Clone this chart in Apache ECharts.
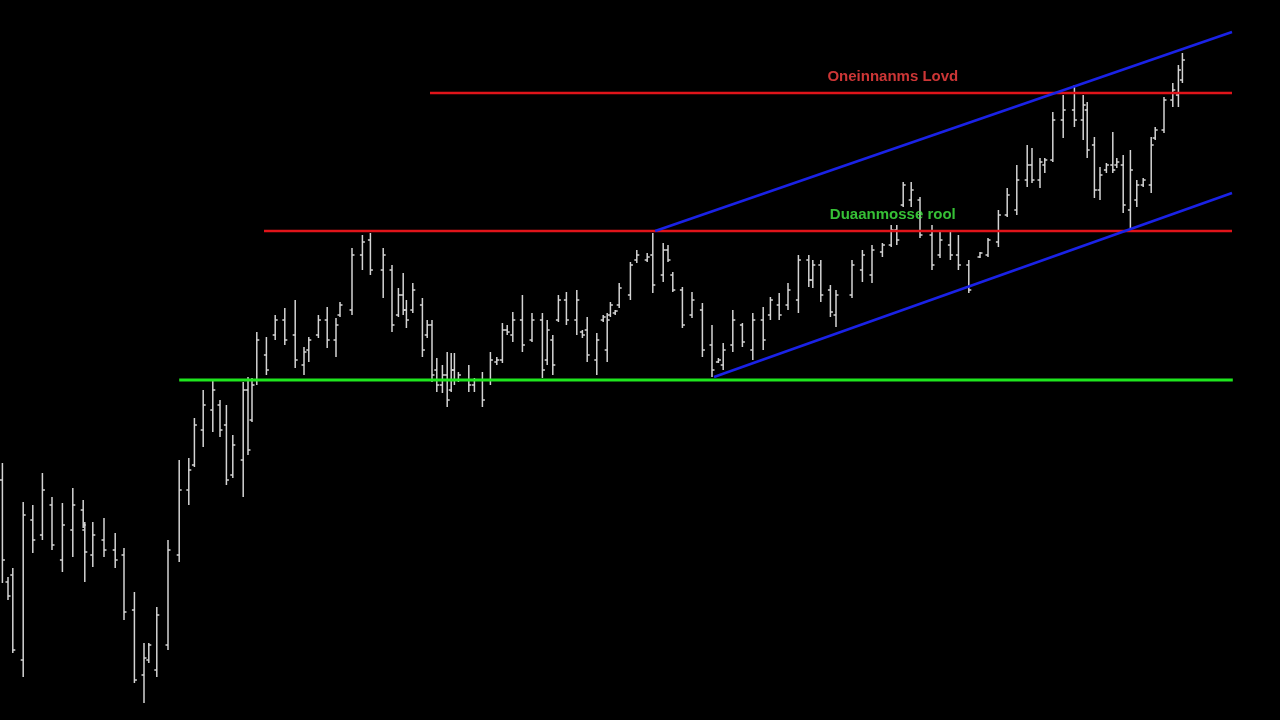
<!DOCTYPE html>
<html>
<head>
<meta charset="utf-8">
<script src="https://cdn.jsdelivr.net/npm/echarts@6/dist/echarts.min.js"></script>
<style>
html,body{margin:0;padding:0;background:#000;}
#chart{width:1280px;height:720px;}
</style>
</head>
<body>
<div id="chart"></div>
<script>
// session time (irregular trading sessions)
const sessionT = [0.3,1.0,1.6,2.9,4.1,5.3,6.5,7.8,9.1,10.4,10.6,11.6,13.0,14.4,15.5,16.8,18.0,18.6,19.6,21.0,
  22.4,23.6,24.3,25.4,26.6,27.5,28.3,29.1,30.4,31.0,31.5,32.1,33.3,34.4,35.6,36.9,38.0,38.6,39.8,40.9,
  42.0,42.5,44.0,45.3,46.3,47.9,49.0,49.8,50.4,50.8,51.6,52.8,53.4,54.0,54.6,55.3,55.9,56.4,56.8,57.3,
  58.6,59.3,60.3,61.3,62.1,62.8,63.4,64.1,65.3,66.5,67.8,68.4,69.1,69.8,70.8,72.1,72.8,73.4,74.6,75.4,
  75.9,76.3,76.9,77.4,78.8,79.6,80.9,81.6,82.9,83.5,84.1,85.3,86.5,87.8,89.0,89.8,90.4,91.6,92.8,94.1,
  95.4,96.3,97.4,98.5,99.8,101.1,101.6,102.6,103.8,104.5,106.5,107.8,109.0,110.3,111.4,112.1,112.9,113.9,115.0,116.5,
  117.5,118.8,119.8,121.1,122.5,123.5,124.8,125.9,127.1,128.4,129.0,130.0,130.6,131.6,132.9,134.3,135.4,135.9,136.8,137.5,
  138.3,139.1,139.6,140.4,141.3,142.1,142.9,143.9,144.4,145.5,146.6,147.3,147.8];
const highs = [25.7,14.3,15.2,21.8,21.5,24.7,22.3,21.7,23.2,22.0,19.8,19.8,20.2,18.7,17.2,12.8,7.7,7.7,11.3,18.0,
  26.0,26.2,30.2,33.0,34.0,32.0,31.5,28.5,33.8,34.3,34.2,38.8,38.3,40.5,41.2,42.0,37.3,38.3,40.5,41.3,
  40.2,41.8,47.2,48.5,48.7,47.2,45.5,43.2,44.7,42.0,43.7,42.2,40.0,40.0,36.2,35.5,36.8,36.7,36.7,34.8,
  35.5,34.2,34.8,36.8,36.3,39.7,39.5,40.8,42.5,40.7,40.7,40.0,38.5,42.5,42.8,43.0,39.0,40.3,38.7,40.5,
  40.7,41.8,41.0,43.7,45.8,47.0,46.7,48.7,47.7,47.5,44.8,43.3,42.8,41.7,39.5,36.2,37.7,41.0,39.7,40.7,
  41.3,42.3,42.7,43.7,46.5,46.5,46.0,46.0,43.5,43.0,46.0,47.0,47.5,47.7,49.5,49.5,53.8,53.8,52.3,49.5,
  48.8,48.8,48.5,46.0,46.8,48.2,51.0,53.2,55.5,57.5,57.2,56.2,56.2,60.8,62.5,63.5,62.5,61.8,58.3,55.3,
  55.7,58.8,56.2,56.5,57.0,54.0,54.2,58.3,59.3,62.3,63.7,65.5,66.7];
const lows = [13.7,12.0,6.7,4.3,16.7,18.0,17.0,14.8,16.3,19.2,13.8,15.3,16.3,15.2,10.0,3.7,1.7,5.7,4.3,7.0,
  15.8,21.5,25.3,27.3,28.8,28.3,23.5,24.2,22.3,26.5,29.8,33.5,34.5,38.0,37.5,35.2,34.5,35.8,38.2,37.2,
  36.3,40.3,40.5,45.0,44.5,42.2,38.8,40.3,40.5,39.2,40.7,36.3,38.2,33.8,32.8,32.7,31.3,32.8,33.5,33.8,
  32.8,32.8,31.3,33.5,35.5,35.7,38.5,37.8,36.8,37.8,34.2,35.5,34.5,39.8,39.5,38.5,38.2,35.8,34.5,39.8,
  35.8,40.3,40.5,41.2,42.0,45.7,45.8,42.7,43.8,45.8,42.8,39.2,40.2,36.3,34.3,35.7,35.0,36.8,37.3,36.0,
  37.0,40.0,40.0,41.0,40.7,43.3,43.2,41.8,40.3,39.3,42.2,43.8,43.7,46.3,47.3,47.5,51.3,51.3,48.2,45.0,
  46.2,46.0,45.0,42.7,46.2,46.3,47.3,50.3,50.5,53.3,53.7,53.2,54.7,55.8,58.2,59.3,58.0,56.2,52.2,52.0,
  54.7,54.7,55.2,50.7,48.8,51.3,53.3,52.7,58.0,58.7,61.3,61.3,63.7];
const opens = [24.0,13.8,14.5,6.0,20.0,18.5,21.5,16.0,19.0,21.0,19.0,16.5,18.0,17.0,16.5,11.0,4.5,6.0,5.0,7.5,
  16.5,23.0,25.5,29.0,31.0,31.5,29.5,24.5,26.0,33.0,30.0,34.0,36.5,38.5,40.0,38.5,35.5,37.0,38.5,40.0,
  38.0,40.5,41.0,46.5,48.0,45.0,45.0,40.5,42.5,41.0,41.0,41.5,38.5,39.5,35.0,33.5,34.5,33.0,35.0,34.0,
  34.0,33.5,34.0,34.0,35.8,36.0,39.0,38.5,40.0,38.0,40.0,36.0,38.0,40.0,42.0,40.0,38.8,39.0,36.0,40.0,
  37.0,40.5,40.7,41.5,42.5,46.0,46.0,46.5,44.5,47.0,44.5,43.0,40.5,41.0,37.5,35.8,35.5,37.5,39.5,37.0,
  40.0,40.5,41.5,41.5,42.0,46.0,44.0,45.5,43.0,40.5,42.5,45.0,44.5,46.8,47.5,49.0,51.5,52.0,52.0,48.5,
  46.5,47.5,46.5,45.5,46.3,46.5,47.8,50.5,51.0,54.0,55.5,54.0,55.5,56.0,60.0,61.0,60.0,61.0,57.5,53.0,
  55.0,55.5,55.5,55.5,51.0,52.0,53.5,53.5,58.2,59.0,62.0,62.5,64.0];
const closes = [16.0,12.4,7.0,20.5,18.0,23.0,17.5,19.5,21.5,19.5,16.8,18.5,17.0,16.0,10.8,4.0,6.2,7.5,10.5,17.0,
  23.0,25.0,29.5,31.5,33.0,29.0,24.0,27.5,33.0,27.0,33.5,38.0,35.0,40.0,38.0,36.0,36.8,38.0,40.0,38.0,
  39.5,41.5,46.5,47.8,45.0,46.5,39.5,42.5,41.0,40.0,43.0,37.0,39.5,34.5,33.5,34.5,32.0,35.0,34.0,34.5,
  33.5,34.0,32.0,36.0,36.0,39.0,38.8,40.0,37.5,40.0,35.0,39.0,35.5,42.0,40.0,42.0,38.5,36.5,38.0,40.3,
  40.0,41.5,40.9,43.2,45.5,46.5,46.3,43.5,47.0,46.0,43.0,39.5,42.0,37.0,35.0,36.0,37.0,40.0,37.8,40.0,
  38.0,42.0,40.5,43.0,46.0,44.0,45.5,42.5,40.8,42.5,45.5,46.5,47.0,47.5,49.0,48.0,53.5,53.0,48.5,45.5,
  48.0,46.5,45.5,43.0,46.7,48.0,50.5,52.5,54.0,55.5,54.0,55.8,56.0,60.0,61.0,60.0,61.5,57.0,53.0,54.5,
  55.5,55.0,55.8,51.5,55.0,53.5,54.0,57.5,59.0,62.0,63.0,65.0,66.0];

// horizontal levels [tStart, tEnd, price]
const resistanceTop = [53.75, 154.0, 62.7];
const resistanceMid = [33.0, 154.0, 48.9];
const supportLevel = [22.4, 154.1, 34.0];
// channel lines [[t, price], [t, price]]
const channelUpper = [[81.9, 48.9], [154.0, 68.8]];
const channelLower = [[89.25, 34.3], [154.0, 52.7]];
// annotation texts
const labelTexts = ['Oneinnanms Lovd', 'Duaanmosse rool'];
const labelPos = [[111.6, 64.3], [111.6, 50.5]];

const ohlc = sessionT.map((t, i) => [t, opens[i], closes[i], lows[i], highs[i]]);

const chart = echarts.init(document.getElementById('chart'), null, {renderer: 'canvas'});

function hLine(level, color, width) {
  return {
    type: 'line', data: [[level[0], level[2]], [level[1], level[2]]],
    symbol: 'none', silent: true, animation: false,
    lineStyle: {color: color, width: width}, z: 3
  };
}
function seg(pts, color, width) {
  return {
    type: 'line', data: pts, symbol: 'none', silent: true, animation: false,
    lineStyle: {color: color, width: width}, z: 4
  };
}

chart.setOption({
  backgroundColor: '#000000',
  animation: false,
  grid: {left: 0, right: 0, top: 0, bottom: 0},
  xAxis: {type: 'value', min: 0, max: 160, show: false, splitLine: {show: false}},
  yAxis: {type: 'value', min: 0, max: 72, show: false, splitLine: {show: false}},
  series: [
    {
      type: 'custom',
      data: ohlc,
      z: 2,
      renderItem: function (params, api) {
        const t = api.value(0);
        const pH = api.coord([t, api.value(4)]);
        const pL = api.coord([t, api.value(3)]);
        const pO = api.coord([t, api.value(1)]);
        const pC = api.coord([t, api.value(2)]);
        const st = {stroke: '#d4d4d4', lineWidth: 1.5};
        return {
          type: 'group',
          children: [
            {type: 'line', shape: {x1: pH[0], y1: pH[1], x2: pL[0], y2: pL[1]}, style: st},
            {type: 'line', shape: {x1: pO[0] - 2.5, y1: pO[1], x2: pO[0], y2: pO[1]}, style: st},
            {type: 'line', shape: {x1: pC[0], y1: pC[1], x2: pC[0] + 2.5, y2: pC[1]}, style: st}
          ]
        };
      }
    },
    hLine(resistanceTop, '#e0141a', 2.6),
    hLine(resistanceMid, '#e0141a', 2.6),
    hLine(supportLevel, '#1ee61e', 3),
    seg(channelUpper, '#1a22e6', 2.6),
    seg(channelLower, '#1a22e6', 2.6),
    {
      type: 'scatter', symbolSize: 0, silent: true, z: 6,
      data: [
        {value: labelPos[0], label: {color: '#ff4444'}, name: labelTexts[0]},
        {value: labelPos[1], label: {color: '#44f044'}, name: labelTexts[1]}
      ],
      label: {
        show: true, position: 'inside', formatter: p => p.name,
        fontFamily: 'Liberation Sans, Arial, sans-serif', fontWeight: 600, fontSize: 15
      }
    }
  ]
});
</script>
</body>
</html>
